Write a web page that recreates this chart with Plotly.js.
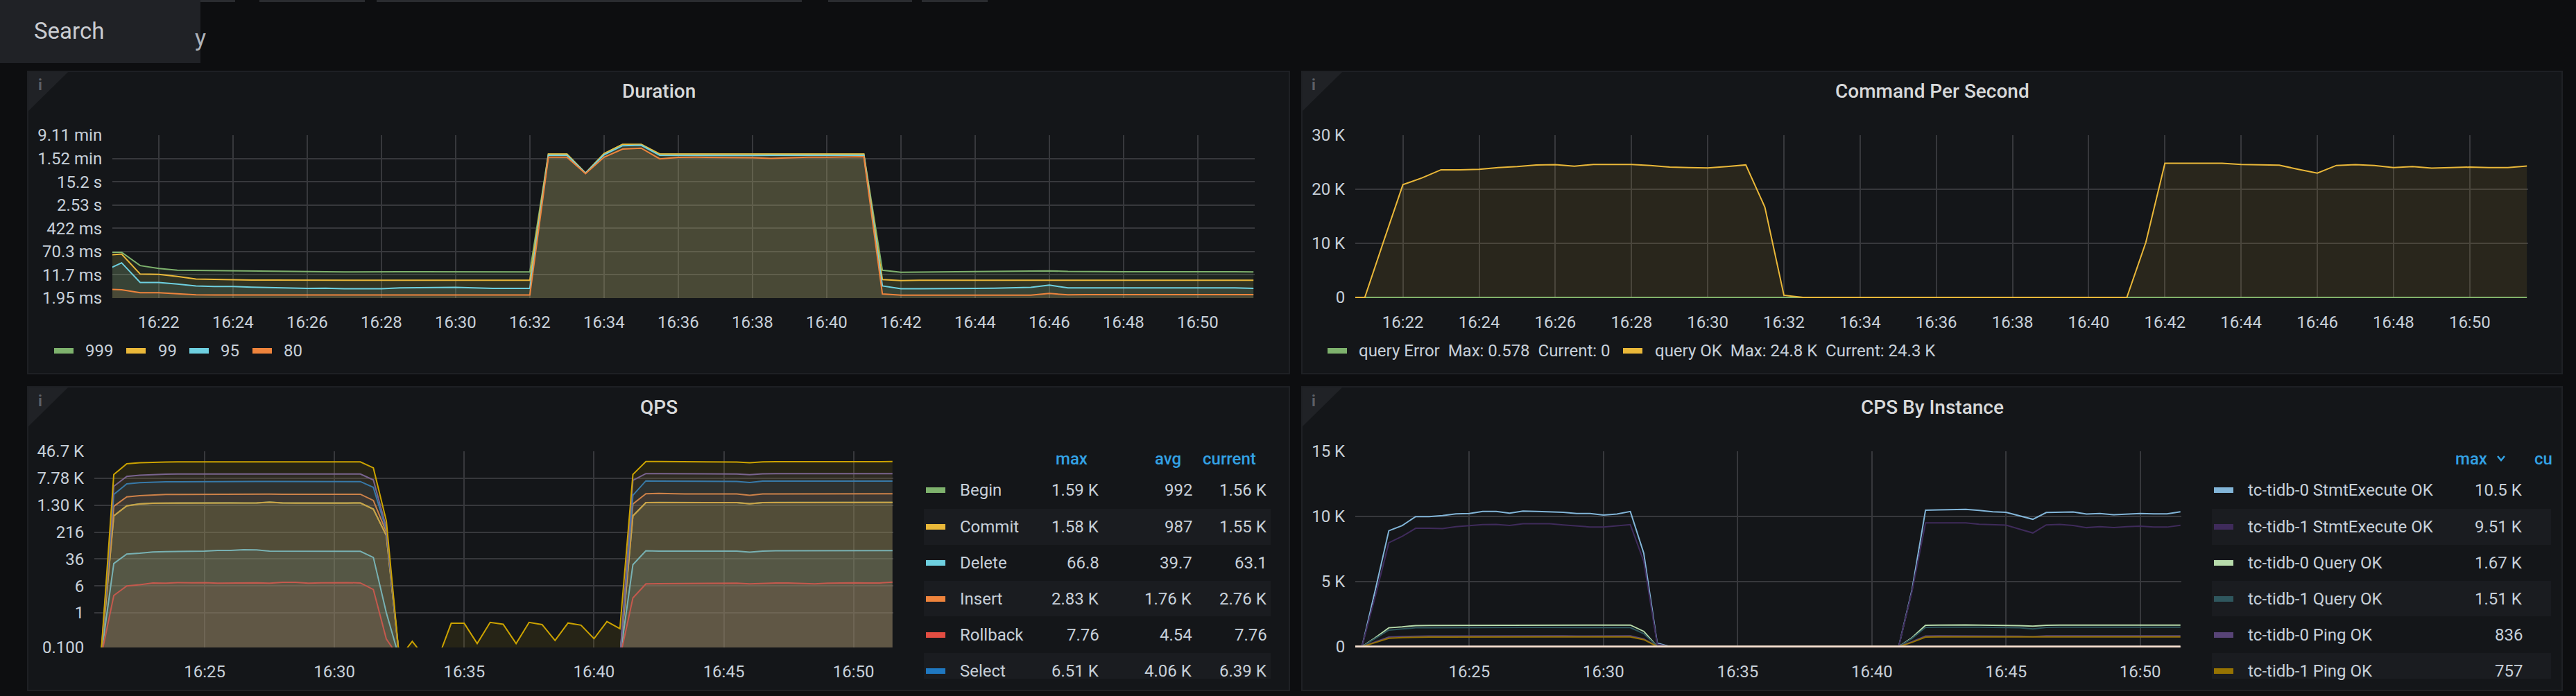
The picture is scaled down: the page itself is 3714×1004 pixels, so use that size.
<!DOCTYPE html>
<html>
<head>
<meta charset="utf-8">
<script src="https://cdn.plot.ly/plotly-3.0.1.min.js"></script>
<style>
html,body{margin:0;padding:0;background:#0d0e10;overflow:hidden;}
#chart{width:3714px;height:1004px;}
</style>
</head>
<body>
<div id="chart"></div>
<script>
// ---------------- DATA ----------------
const DAY = "2021-03-10";
const times = ["16:20:30","16:21:00","16:21:30","16:22:00","16:22:30","16:23:00","16:23:30","16:24:00","16:24:30","16:25:00",
"16:25:30","16:26:00","16:26:30","16:27:00","16:27:30","16:28:00","16:28:30","16:29:00","16:29:30","16:30:00",
"16:30:30","16:31:00","16:31:30","16:32:00","16:32:30","16:33:00","16:33:30","16:34:00","16:34:30","16:35:00",
"16:35:30","16:36:00","16:36:30","16:37:00","16:37:30","16:38:00","16:38:30","16:39:00","16:39:30","16:40:00",
"16:40:30","16:41:00","16:41:30","16:42:00","16:42:30","16:43:00","16:43:30","16:44:00","16:44:30","16:45:00",
"16:45:30","16:46:00","16:46:30","16:47:00","16:47:30","16:48:00","16:48:30","16:49:00","16:49:30","16:50:00",
"16:50:30","16:51:00","16:51:30"];

// Duration (seconds)
const durNames = ["999","99","95","80"];
const durColors = ["#7EB26D","#EAB839","#6ED0E0","#EF843C"];
const dur999 = [0.066,0.066,0.0238,0.0192,0.0167,0.0164,0.0160,0.0157,0.0155,0.0152,0.0150,0.0149,0.0149,0.0147,0.0146,0.0148,0.0149,0.0149,0.0148,0.0147,0.0147,0.0146,0.0146,0.0146,
128,128,29.4,133,271,271,128,128,128,128,128,127,128,128,128,128,128,128,
0.0167,0.0143,0.0144,0.0146,0.0146,0.0148,0.0150,0.0152,0.0155,0.0159,0.0152,0.0149,0.0148,0.0148,0.0148,0.0149,0.0148,0.0148,0.0148,0.0148,0.0146];
const dur99 = [0.0517,0.0578,0.0124,0.0122,0.0103,0.0085,0.0082,0.0079,0.0078,0.0078,0.0078,0.0077,0.0077,0.0077,0.0077,0.0077,0.0077,0.0077,0.0078,0.0078,0.0078,0.0078,0.0077,0.0077,
128,128,29.4,133,271,271,128,128,128,128,128,127,128,128,128,128,128,128,
0.0081,0.00755,0.0077,0.0077,0.0077,0.0077,0.0077,0.0077,0.0077,0.0080,0.0077,0.0077,0.0077,0.0077,0.0077,0.0077,0.0077,0.0077,0.0077,0.0077,0.0077];
const dur95 = [0.0152,0.0295,0.00649,0.00649,0.00573,0.00496,0.00478,0.00478,0.00453,0.00438,0.00418,0.00412,0.00418,0.0040,0.0040,0.0040,0.0043,0.00438,0.00445,0.00445,0.0043,0.00412,0.00412,0.00412,
116,116,29.4,121,243,252,116,115,116,116,116,115,116,116,116,116,116,116,
0.0050,0.0040,0.0040,0.0040,0.00405,0.00412,0.00418,0.0043,0.00445,0.00529,0.0043,0.0043,0.0043,0.00438,0.00445,0.00445,0.00438,0.00438,0.00438,0.0043,0.00412];
const dur80 = [0.0039,0.0037,0.00295,0.00295,0.00274,0.00251,0.00248,0.00248,0.00246,0.00246,0.00246,0.00246,0.00246,0.00246,0.00246,0.00246,0.00246,0.00248,0.00248,0.00251,0.00251,0.00248,0.00248,0.00248,
100,100,28.4,100,187,201,88,99,100,100,100,97,91,97,100,100,100,104,
0.00269,0.00246,0.00246,0.00246,0.00246,0.00246,0.00246,0.00246,0.00246,0.00279,0.00251,0.00255,0.00255,0.00255,0.00255,0.00255,0.00255,0.00255,0.00255,0.00255,0.00255];
const durTickVals = [0.001953125,0.01171875,0.0703125,0.421875,2.53125,15.1875,91.125,546.75];
const durTickText = ["1.95 ms","11.7 ms","70.3 ms","422 ms","2.53 s","15.2 s","1.52 min","9.11 min"];

// Command Per Second
const cpsNames = ["query Error","query OK"];
const cpsColors = ["#7EB26D","#EAB839"];
const cpsMax = ["0.578","24.8 K"];
const cpsCur = ["0","24.3 K"];
const cpsError = [0,0,0,0,0,0,0,0,0,0,0,0,0,0,0,0,0,0,0,0,0,0,0,0.578,
0,0,0,0,0,0,0,0,0,0,0,0,0,0,0,0,0,0,
0,0,0,0,0,0,0,0,0,0,0,0,0,0,0,0,0,0,0,0,0];
const cpsOK = [0,0,10500,20850,22100,23600,23600,23700,24000,24200,24500,24550,24250,24600,24600,24600,24400,24100,24000,23950,24200,24500,16700,400,
0,0,0,0,0,0,0,0,0,0,0,0,0,0,0,0,0,0,
10200,24800,24800,24800,24800,24600,24500,24450,23700,23000,24400,24550,24400,24000,24200,23900,24000,24100,24000,24000,24300];
const cpsTickVals = [0,10000,20000,30000];
const cpsTickText = ["0","10 K","20 K","30 K"];

// QPS
const qpsNames = ["Begin","Commit","Delete","Insert","Rollback","Select","Update","Others"];
const qpsColors = ["#7EB26D","#EAB839","#6ED0E0","#EF843C","#E24D42","#1F78C1","#705DA0","#CCA300"];
const qpsMax = ["1.59 K","1.58 K","66.8","2.83 K","7.76","6.51 K"];
const qpsAvg = ["992","987","39.7","1.76 K","4.54","4.06 K"];
const qpsCur = ["1.56 K","1.55 K","63.1","2.76 K","7.76","6.39 K"];
const qpsBegin = [0,0,640,1250,1410,1480,1490,1500,1510,1500,1510,1520,1500,1510,1590,1510,1500,1490,1500,1510,1500,1510,1000,173,
0,0,0,0,0,0,0,0,0,0,0,0,0,0,0,0,0,0,
640,1540,1550,1550,1540,1540,1540,1540,1540,1430,1540,1550,1550,1540,1550,1550,1550,1550,1550,1550,1560];
const qpsCommit = [0,0,633,1240,1400,1470,1480,1490,1500,1490,1500,1510,1490,1500,1580,1500,1490,1480,1490,1500,1490,1500,990,171,
0,0,0,0,0,0,0,0,0,0,0,0,0,0,0,0,0,0,
633,1530,1540,1540,1530,1530,1530,1530,1530,1420,1530,1540,1540,1530,1540,1540,1540,1540,1540,1540,1550];
const qpsDelete = [0,0,26.7,50,53,57.6,59,59,61,61,64,64,66.8,66,61,61,60,60,61,61,60,60,40,1.0,
0,0,0,0,0,0,0,0,0,0,0,0,0,0,0,0,0,0,
24.7,62,61,61,61,62,62,62,61,57,61,62,62,62,62,62,62,62,62,62,63.1];
const qpsInsert = [0,0,1200,2250,2430,2550,2630,2630,2650,2680,2680,2700,2680,2700,2700,2680,2680,2700,2680,2680,2660,2680,1770,216,
0,0,0,0,0,0,0,0,0,0,0,0,0,0,0,0,0,0,
1400,2760,2830,2740,2720,2720,2720,2720,2720,2500,2720,2740,2740,2720,2720,2720,2740,2740,2740,2740,2760];
const qpsRollback = [0,0,3.18,6.0,6.5,7.3,7.2,7.5,7.4,7.5,7.2,7.3,7.5,7.4,7.2,7.6,7.6,7.2,7.4,7.5,7.5,7.3,4.73,0.176,
0,0,0,0,0,0,0,0,0,0,0,0,0,0,0,0,0,0,
2.71,6.9,7.0,7.0,7.1,7.0,7.0,7.1,7.2,6.9,7.2,7.3,7.3,7.1,6.9,7.2,7.4,7.4,7.3,7.3,7.76];
const qpsSelect = [0,0,2630,5330,5770,6000,6100,6150,6200,6200,6220,6250,6220,6250,6250,6220,6200,6200,6150,6200,6220,6220,4220,250,
0,0,0,0,0,0,0,0,0,0,0,0,0,0,0,0,0,0,
2500,6510,6450,6450,6400,6400,6400,6400,6300,5860,6400,6450,6450,6400,6400,6380,6400,6400,6380,6380,6390];
const qpsUpdate = [0,0,4560,8800,9530,10000,10200,10300,10300,10300,10300,10400,10300,10400,10400,10300,10300,10300,10300,10300,10300,10300,6970,290,
0,0,0,0,0,0,0,0,0,0,0,0,0,0,0,0,0,0,
6750,10600,10500,10500,10500,10400,10400,10400,10300,9840,10400,10500,10500,10400,10500,10500,10500,10500,10500,10500,10500];
const qpsOthers = [0,0,10000,20300,21900,22700,22800,23000,23000,23000,23000,23100,23100,23100,23100,23100,23000,23000,23000,23000,23100,23000,15500,456,
0,0.15,0,0,0.5,0.5,0.13,0.53,0.47,0.13,0.53,0.46,0.16,0.51,0.44,0.18,0.56,0.35,
10000,23700,23500,23500,23500,23400,23300,23300,22900,21900,23200,23300,23300,23300,23300,23400,23400,23400,23400,23400,23500];
const qpsTickVals = [0.1,1,6,36,216,1296,7776,46656];
const qpsTickText = ["0.100","1","6","36","216","1.30 K","7.78 K","46.7 K"];

// CPS By Instance
const instNames = ["tc-tidb-0 StmtExecute OK","tc-tidb-1 StmtExecute OK","tc-tidb-0 Query OK","tc-tidb-1 Query OK","tc-tidb-0 Ping OK","tc-tidb-1 Ping OK","tc-tidb-0 StmtClose OK"];
const instColors = ["#82B5D8","#3F2B5B","#B7DBAB","#2F575E","#584477","#967302","#F9E2D2"];
const instMax = ["10.5 K","9.51 K","1.67 K","1.51 K","836","757"];
const inst0Stmt = [0,0,4380,8900,9300,9990,9990,10060,10200,10230,10380,10380,10250,10410,10380,10360,10320,10220,10220,10110,10180,10380,7180,280,
0,0,0,0,0,0,0,0,0,0,0,0,0,0,0,0,0,0,
4400,10480,10500,10530,10540,10460,10360,10320,10060,9780,10300,10340,10340,10180,10220,10130,10180,10220,10200,10200,10360];
const inst1Stmt = [0,0,3900,7980,8470,9090,9090,9070,9210,9280,9370,9390,9300,9440,9440,9440,9350,9250,9190,9190,9260,9370,6560,200,
0,0,0,0,0,0,0,0,0,0,0,0,0,0,0,0,0,0,
4270,9500,9500,9510,9500,9400,9350,9330,9030,8730,9350,9390,9300,9140,9210,9140,9210,9250,9190,9180,9320];
const inst0Query = [0,0,700,1450,1520,1620,1630,1630,1640,1640,1650,1650,1640,1660,1660,1650,1650,1640,1640,1640,1640,1660,1180,30,
0,0,0,0,0,0,0,0,0,0,0,0,0,0,0,0,0,0,
700,1640,1660,1670,1670,1650,1640,1640,1620,1570,1640,1650,1650,1640,1640,1640,1640,1640,1640,1640,1650];
const inst1Query = [0,0,640,1270,1360,1450,1450,1460,1460,1470,1470,1480,1470,1480,1480,1480,1470,1470,1460,1460,1460,1470,1000,30,
0,0,0,0,0,0,0,0,0,0,0,0,0,0,0,0,0,0,
640,1480,1500,1510,1510,1490,1480,1480,1460,1360,1480,1490,1490,1480,1480,1480,1480,1480,1480,1480,1490];
const inst0Ping = [0,0,370,740,780,810,815,820,825,825,830,830,825,836,830,830,825,820,820,820,825,830,600,20,
0,0,0,0,0,0,0,0,0,0,0,0,0,0,0,0,0,0,
380,820,830,830,830,825,820,820,810,780,825,830,830,825,825,825,825,825,825,825,830];
const inst1Ping = [0,0,320,640,700,730,735,740,745,745,750,750,745,757,750,750,745,740,740,740,745,750,540,20,
0,0,0,0,0,0,0,0,0,0,0,0,0,0,0,0,0,0,
330,740,750,750,750,745,740,740,730,710,745,750,750,745,745,745,745,745,745,745,750];
const inst0Close = [0,0,0,0,0,0,0,0,0,0,0,0,0,0,0,0,0,0,0,0,0,0,0,0,
0,0,0,0,0,0,0,0,0,0,0,0,0,0,0,0,0,0,
0,0,0,0,0,0,0,0,0,0,0,0,0,0,0,0,0,0,0,0,0];
const instTickVals = [0,5000,10000,15000];
const instTickText = ["0","5 K","10 K","15 K"];

const panelTitles = ["Duration","Command Per Second","QPS","CPS By Instance"];

// ---------------- BUILD ----------------
const W = 3714, H = 1004;
const FONT = "Roboto, 'Open Sans', sans-serif";
const TICK = "#c7d0d9";
const TXT = "#c7d0d9";
const GRID = "#37383c";
const BLUE = "#33a2e5";
const px = v => v / W;
const py = v => 1 - v / H;
const X = times.map(t => DAY + " " + t);
function rgba(hex, a){ const n = parseInt(hex.slice(1),16); return `rgba(${(n>>16)&255},${(n>>8)&255},${n&255},${a})`; }
const logFloor = arr => arr.map(v => v > 0 ? v : 0.05);

const traces = [];
[dur999, dur99, dur95, dur80].forEach((ys, i) => traces.push({
  x: X, y: ys, xaxis: 'x', yaxis: 'y', name: durNames[i], type: 'scatter', mode: 'lines',
  line: {color: durColors[i], width: 2}, fill: 'tozeroy', fillcolor: rgba(durColors[i], 0.1)
}));
[cpsError, cpsOK].forEach((ys, i) => traces.push({
  x: X, y: ys, xaxis: 'x2', yaxis: 'y2', name: cpsNames[i], type: 'scatter', mode: 'lines',
  line: {color: cpsColors[i], width: 2}, fill: 'tozeroy', fillcolor: rgba(cpsColors[i], 0.1)
}));
[qpsBegin, qpsCommit, qpsDelete, qpsInsert, qpsRollback, qpsSelect, qpsUpdate, qpsOthers].forEach((ys, i) => traces.push({
  x: X, y: logFloor(ys), xaxis: 'x3', yaxis: 'y3', name: qpsNames[i], type: 'scatter', mode: 'lines',
  line: {color: qpsColors[i], width: 2}, fill: 'tozeroy', fillcolor: rgba(qpsColors[i], 0.1)
}));
[inst0Stmt, inst1Stmt, inst0Query, inst1Query, inst0Ping, inst1Ping, inst0Close].forEach((ys, i) => traces.push({
  x: X, y: ys, xaxis: 'x4', yaxis: 'y4', name: instNames[i], type: 'scatter', mode: 'lines',
  line: {color: instColors[i], width: i === 6 ? 3 : 2}
}));

function timeAxis(x0, x1, anchor, dmin){
  return {domain: [px(x0), px(x1)], anchor: anchor, type: 'date',
    range: [DAY + " 16:20:45", DAY + " 16:51:32"], tick0: DAY + " 16:00:00", dtick: dmin*60000,
    tickformat: '%H:%M', showgrid: true, gridcolor: GRID, gridwidth: 2, zeroline: false, showline: false,
    ticks: 'outside', ticklen: 13, tickcolor: 'rgba(0,0,0,0)',
    tickfont: {family: FONT, size: 24, color: TICK}, fixedrange: true};
}
function valAxis(y0, y1, anchor, type, range, tv, tt){
  return {domain: [py(y1), py(y0)], anchor: anchor, type: type, range: range,
    tickmode: 'array', tickvals: tv, ticktext: tt, showgrid: true, gridcolor: GRID, gridwidth: 2,
    zeroline: false, showline: false, ticks: 'outside', ticklen: 9, tickcolor: 'rgba(0,0,0,0)',
    tickfont: {family: FONT, size: 24, color: TICK}, fixedrange: true};
}

const shapes = [];
const annotations = [];
function rect(x0,y0,x1,y1,fill,layer,line){
  shapes.push({type:'rect', xref:'paper', yref:'paper', x0:px(x0), x1:px(x1), y0:py(y1), y1:py(y0),
    fillcolor: fill, line: line || {width:0}, layer: layer || 'below'});
}
function pathP(pts, fill, line, layer){
  const d = pts.map((p,i)=> (i?'L':'M') + px(p[0]) + ',' + py(p[1])).join(' ') + (fill ? ' Z' : '');
  shapes.push({type:'path', xref:'paper', yref:'paper', path: d, fillcolor: fill || 'rgba(0,0,0,0)', line: line || {width:0}, layer: layer || 'below'});
}
function ann(text, x, y, o){
  o = o || {};
  annotations.push({text: text, x: px(x), y: py(y), xref:'paper', yref:'paper', showarrow:false,
    xanchor: o.xanchor || 'left', yanchor: 'middle', borderpad: 0,
    font: {family: FONT, size: o.size || 24, color: o.color || TXT, weight: o.weight || 400}});
}

// top bars and search box
[[289,339],[374,526],[543,1156],[1194,1315],[1329,1424]].forEach(b => rect(b[0],0,b[1],3,'#2a2c30'));
rect(0,0,289,91,'#202226');
ann("Search", 48, 45, {size: 33, color: '#c9ccd1'});
ann("y", 280, 54, {size: 34, color: '#aeb3ba'});

// panels
const panels = [[40,103,1859,539],[1877,103,3694,539],[40,558,1859,996],[1877,558,3694,996]];
panels.forEach((p, k) => {
  rect(p[0],p[1],p[2],p[3],'#141619','below',{color:'#1e2024', width:2});
  pathP([[p[0]+1,p[1]+1],[p[0]+58,p[1]+1],[p[0]+1,p[1]+57]], '#202226');
  ann("i", p[0]+17.5, p[1]+(k<2?19:20), {size: 22, color: '#5d6066', weight: 700, xanchor:'center'});
  ann(panelTitles[k], (p[0]+p[2])/2, k<2 ? 131 : 587, {size: 28, color: '#d8d9da', weight: 500, xanchor: 'center'});
});

// Duration legend
const durBoxX = [78,182,273,364], durTxtX = [122,227,317,408];
durNames.forEach((n,i) => { rect(durBoxX[i],502,durBoxX[i]+28,510,durColors[i],'above'); ann(n, durTxtX[i], 506); });

// CPS legend
rect(1914,502,1942,510,cpsColors[0],'above');
ann(cpsNames[0] + "\u00a0\u00a0Max: " + cpsMax[0] + "\u00a0\u00a0Current: " + cpsCur[0], 1958, 506);
rect(2340,502,2368,510,cpsColors[1],'above');
ann(cpsNames[1] + "\u00a0\u00a0Max: " + cpsMax[1] + "\u00a0\u00a0Current: " + cpsCur[1], 2385, 506);

// table legends
const rowY = [707,760,812,864,916,968];
[[734,786],[838,889],[942,979]].forEach(b => { rect(1332,b[0],1832,b[1],'#1a1c20'); rect(3189,b[0],3678,b[1],'#1a1c20'); });
ann("max", 1569, 662, {color: BLUE, xanchor:'right', weight: 500});
ann("avg", 1704, 662, {color: BLUE, xanchor:'right', weight: 500});
ann("current", 1812, 662, {color: BLUE, xanchor:'right', weight: 500});
qpsMax.forEach((m,i) => {
  rect(1335,rowY[i]-4,1363,rowY[i]+4,qpsColors[i],'above');
  ann(qpsNames[i], 1383, rowY[i]);
  ann(m, 1586, rowY[i], {xanchor:'right'});
  ann(qpsAvg[i], 1720, rowY[i], {xanchor:'right'});
  ann(qpsCur[i], 1828, rowY[i], {xanchor:'right'});
});
ann("max", 3587, 662, {color: BLUE, xanchor:'right', weight: 500});
pathP([[3601,658],[3606,664],[3611,658]], null, {color: BLUE, width: 2.5}, 'above');
ann("cu", 3653, 662, {color: BLUE, weight: 500});
instMax.forEach((m,i) => {
  rect(3192,rowY[i]-4,3220,rowY[i]+4,instColors[i],'above');
  ann(instNames[i], 3240, rowY[i]);
  ann(m, 3638, rowY[i], {xanchor:'right'});
});

const layout = {
  width: W, height: H, autosize: false, margin: {l:0, r:0, t:0, b:0, pad:0},
  paper_bgcolor: '#0d0e10', plot_bgcolor: 'rgba(0,0,0,0)', showlegend: false, hovermode: false,
  font: {family: FONT, color: TXT},
  xaxis: timeAxis(162, 1809, 'y', 2),
  yaxis: valAxis(195, 430, 'x', 'log', [Math.log10(durTickVals[0]), Math.log10(durTickVals[7])], durTickVals, durTickText),
  xaxis2: timeAxis(1954, 3645, 'y2', 2),
  yaxis2: valAxis(195, 430, 'x2', 'linear', [-120, 30000], cpsTickVals, cpsTickText),
  xaxis3: timeAxis(136, 1288, 'y3', 5),
  yaxis3: valAxis(651, 934, 'x3', 'log', [Math.log10(qpsTickVals[0]), Math.log10(qpsTickVals[7])], qpsTickVals, qpsTickText),
  xaxis4: timeAxis(1954, 3145, 'y4', 5),
  yaxis4: valAxis(651, 934, 'x4', 'linear', [-60, 15000], instTickVals, instTickText),
  shapes: shapes, annotations: annotations
};
Plotly.newPlot('chart', traces, layout, {staticPlot: true, displayModeBar: false});
</script>
</body>
</html>
